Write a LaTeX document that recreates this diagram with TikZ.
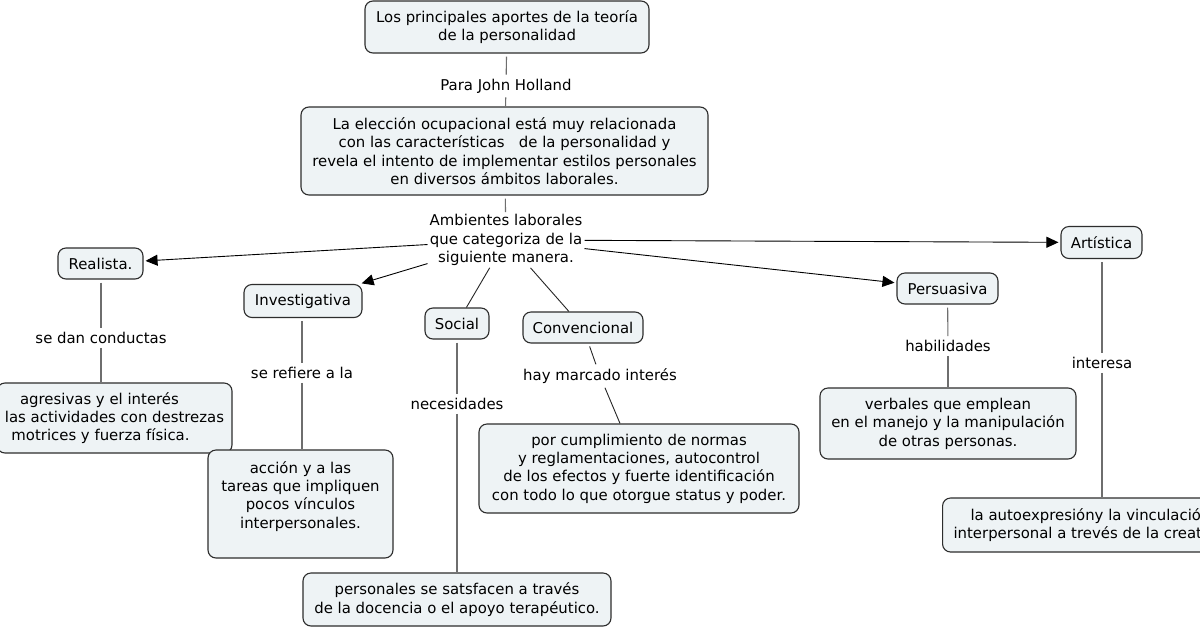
\documentclass[tikz,border=0pt]{standalone}
\usepackage{fontspec}
\setmainfont{DejaVu Sans}
\usetikzlibrary{arrows.meta}
\definecolor{boxfill}{RGB}{238,243,245}
\definecolor{boxline}{RGB}{45,45,45}
\definecolor{connline}{RGB}{110,110,110}
\tikzset{
  txt/.style={font=\fontsize{14.9}{18.4}\selectfont, align=center},
  cbox/.style={txt, draw=boxline, fill=boxfill, line width=1.1pt, rounded corners=8pt, inner sep=0pt},
  lbl/.style={txt, inner sep=4pt},
  conn/.style={draw=connline, line width=1.1pt},
  slant/.style={draw=black!85, line width=0.9pt},
  arr/.style={draw=black, line width=0.9pt, -{Triangle[length=12pt,width=11pt]}, shorten >=2pt},
  frombox/.style={shorten <=3pt}
}
\begin{document}
\begin{tikzpicture}[x=1pt,y=-1pt]
\useasboundingbox (0,0) rectangle (1200,630);
\clip (0,0) rectangle (1200,630);
\fill[white] (0,0) rectangle (1200,630);

% main boxes
\node[cbox, minimum width=284pt, minimum height=52pt] (top) at (507,27) {Los principales aportes de la teoría\\de la personalidad};
\node[lbl] (pjh) at (506,86) {Para John Holland};
\node[cbox, minimum width=407pt, minimum height=88pt] (box2) at (504.5,151) {La elección ocupacional está muy relacionada\\ con las características\ \ \ de la personalidad y\\revela el intento de implementar estilos personales\\en diversos ámbitos laborales.};
\node[txt, inner sep=2pt] (amb) at (506,240) {Ambientes laborales\\que categoriza de la\\siguiente manera.};

% categories
\node[cbox, minimum width=85pt, minimum height=31pt] (real) at (100.5,263.5) {Realista.};
\node[cbox, minimum width=118pt, minimum height=33pt] (inv) at (303,301) {Investigativa};
\node[cbox, minimum width=64pt, minimum height=31pt] (soc) at (457,323.5) {Social};
\node[cbox, minimum width=120pt, minimum height=31pt] (conv) at (583,327.5) {Convencional};
\node[cbox, minimum width=101pt, minimum height=31pt] (pers) at (947.5,288.5) {Persuasiva};
\node[cbox, minimum width=81pt, minimum height=32pt] (art) at (1101.5,242.5) {Artística};

% linking labels
\node[lbl] (sdc) at (101,338) {se dan conductas};
\node[lbl] (srl) at (302,373) {se refiere a la};
\node[lbl] (nec) at (457,404) {necesidades};
\node[lbl] (hmi) at (600,376) {hay marcado interés};
\node[lbl] (hab) at (948,346) {habilidades};
\node[lbl] (int) at (1102,363) {interesa};

% children
\node[cbox, minimum width=235pt, minimum height=70pt] (realc) at (114.5,418) {agresivas y el interés\hspace*{30pt}\\las actividades con destrezas\\motrices y fuerza física.\hspace*{28pt}};
\node[cbox, minimum width=185pt, minimum height=108pt] (invc) at (300.5,504) {acción y a las\\tareas que impliquen\\pocos vínculos\\interpersonales.\\\mbox{}};
\node[cbox, minimum width=308pt, minimum height=53pt] (socc) at (457,599.5) {personales se satsfacen a través\\de la docencia o el apoyo terapéutico.};
\node[cbox, minimum width=320pt, minimum height=89pt] (convc) at (639,468.5) {por cumplimiento de normas\\y reglamentaciones, autocontrol\\de los efectos y fuerte identificación\\con todo lo que otorgue status y poder.};
\node[cbox, minimum width=256pt, minimum height=71pt] (persc) at (948,423.5) {verbales que emplean\\en el manejo y la manipulación\\de otras personas.};
\node[cbox, align=left, anchor=west, inner xsep=11pt, minimum height=54pt] (artc) at (942,525) {\hspace*{17pt}la autoexpresióny la vinculación\\interpersonal a trevés de la creatividad.};

% connectors
\draw[conn, frombox] (top) -- (pjh);
\draw[conn] (pjh) -- (box2);
\draw[conn, frombox] (box2) -- (amb);
\draw[arr] (amb) -- (real);
\draw[arr] (amb) -- (inv);
\draw[arr] (amb) -- (pers);
\draw[arr] (amb) -- (art);
\draw[slant] (amb) -- (soc);
\draw[slant] (amb) -- (conv);

\draw[conn, frombox] (real.south -| sdc) -- (sdc);
\draw[conn] (sdc) -- (sdc |- realc.north);
\draw[conn, frombox] (inv.south -| srl) -- (srl);
\draw[conn] (srl) -- (srl |- invc.north);
\draw[conn, frombox] (soc) -- (nec);
\draw[conn] (nec) -- (socc);
\draw[slant, frombox] (conv) -- (hmi);
\draw[slant] (hmi) -- (convc);
\draw[conn, frombox] (pers) -- (hab);
\draw[conn] (hab) -- (persc);
\draw[conn, frombox] (art.south -| int) -- (int);
\draw[conn] (int) -- (int |- artc.north);
\end{tikzpicture}
\end{document}
